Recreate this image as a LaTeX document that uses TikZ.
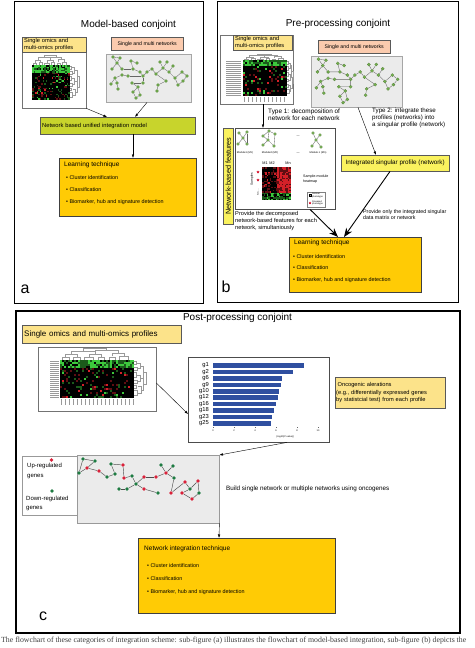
\documentclass[tikz,border=0pt]{standalone}
\usepackage{fontspec}
\setmainfont{Liberation Sans}
\newfontfamily\captionfont{Liberation Serif}
\usetikzlibrary{arrows.meta,shapes.geometric}
\definecolor{tagYellow}{HTML}{FCE38A}
\definecolor{netSalmon}{HTML}{FBCBAE}
\definecolor{netGray}{HTML}{EBEBEB}
\definecolor{modelLime}{HTML}{C8D42C}
\definecolor{techGold}{HTML}{FFCB05}
\definecolor{singleYellow}{HTML}{FAF25E}
\definecolor{nodeGreen}{HTML}{74B04F}
\definecolor{upRed}{HTML}{D9213A}
\definecolor{downGreen}{HTML}{1E7B42}
\definecolor{barBlue}{HTML}{2F4FA0}
\definecolor{heatGreen}{HTML}{3CC83C}
\definecolor{heatRed}{HTML}{D42028}

% one heatmap cell: x, y, size, colour code
\newcommand{\heatcell}[4]{%
  \ifcase\numexpr#4\relax
  \or\fill[heatGreen] (#1,#2) rectangle ++(#3,#3);
  \or\fill[heatRed] (#1,#2) rectangle ++(#3,#3);
  \or\fill[heatGreen!45!black] (#1,#2) rectangle ++(#3,#3);
  \or\fill[heatRed!45!black] (#1,#2) rectangle ++(#3,#3);
  \fi}
% x, y, columns, rows, cell size
\newcommand{\heatcells}[5]{%
  \fill[black] (#1,#2) rectangle ++(#3*#5,#4*#5);
  \foreach \hi in {1,...,#3}{
    \foreach \hj in {1,...,#4}{
      \pgfmathsetmacro\hv{rnd}
      \pgfmathtruncatemacro\hc{\hj<#4*0.22 ? (\hv<0.5 ? 1 : (\hv<0.8 ? 3 : 0)) : (\hv<0.035 ? 2 : (\hv<0.12 ? 4 : (\hv<0.15 ? 1 : (\hv<0.23 ? 3 : 0))))}
      \heatcell{#1+\hi*#5-#5}{#2+\hj*#5-#5}{#5}{\hc}
    }
  }
}
% x, y, width, height, tree scale
\newcommand{\dendro}[5]{%
  \foreach \da/\db/\dl/\dh in {0.03/0.12/0/2, 0.18/0.27/0/2.5, 0.33/0.45/0/2, 0.52/0.6/0/2.5,
      0.66/0.74/0/2, 0.8/0.92/0/3, 0.075/0.225/2.5/5, 0.39/0.56/2.5/5, 0.7/0.86/3/6,
      0.15/0.475/5/7.5, 0.475/0.78/6/8, 0.31/0.63/7.5/10}{
    \draw[dendline] (#1+\da*#3,#2-\dl*#5) -- (#1+\da*#3,#2-\dh*#5) -- (#1+\db*#3,#2-\dh*#5) -- (#1+\db*#3,#2-\dl*#5);
    \draw[dendline] (#1+#3+\dl*#5,#2+\da*#4) -- (#1+#3+\dh*#5,#2+\da*#4) -- (#1+#3+\dh*#5,#2+\db*#4) -- (#1+#3+\dl*#5,#2+\db*#4);
  }
}
% green network, node names prefixed by #1
\newcommand{\greennet}[1]{%
  \foreach \nn/\nx/\ny in {1/7/3, 2/14/4, 3/11/9, 4/6/15, 5/16/15, 6/25/7, 7/31/9, 8/27/15, 9/34/18,
      10/16/21, 11/9/24, 12/5/30, 13/11/29, 14/12/35, 15/22/22, 16/37/22, 17/41/18, 18/46/15,
      19/50/20, 20/54/8, 21/61/8, 22/57/14, 23/63/18, 24/67/12, 25/60/27, 26/52/31, 27/51/37,
      28/76/18, 29/77/27, 30/72/31, 31/69/24, 32/81/22, 33/26/29, 34/32/33, 35/27/38, 36/34/41,
      37/30/44, 38/37/29}
    \node[gnode] (#1\nn) at (\nx,\ny) {};
  \foreach \ea/\eb in {1/2, 2/3, 1/3, 3/4, 3/5, 5/8, 6/8, 6/7, 8/9, 9/16, 10/11, 11/12, 11/13, 13/14,
      10/15, 15/16, 16/17, 17/18, 18/19, 19/22, 20/22, 21/22, 22/23, 23/24, 23/31, 31/28, 28/32,
      32/29, 29/30, 30/31, 19/25, 25/26, 26/27, 16/38, 38/33, 33/34, 34/35, 34/36, 36/37, 35/37}
    \draw[netedge] (#1\ea) -- (#1\eb);
}
% box, heading, heading shift, items shift, line spacing
\newcommand{\techlist}[5]{%
  \node[techhead] (#1Head) at ([shift={#3}]#1.north west) {#2};
  \node[techitems, font=\fontsize{5.4}{#5}\selectfont] (#1Items) at ([shift={#4}]#1.north west)
    {\textbullet\ Cluster identification\\\textbullet\ Classification\\\textbullet\ Biomarker, hub and signature detection};
}

\begin{document}
\begin{tikzpicture}[x=1pt, y=-1pt,
  panel/.style={draw=black, line width=1.3pt, inner sep=0pt, anchor=north west},
  box/.style={draw=black!65, line width=0.4pt, inner sep=0pt, anchor=north west},
  tagbox/.style={box, fill=tagYellow, inner xsep=2pt, align=left, font=\fontsize{5.7}{6.4}\selectfont},
  picframe/.style={box, draw=black!55, fill=white},
  netframe/.style={box, draw=black!35, fill=netGray},
  techbox/.style={box, draw=black!75, fill=techGold},
  paneltitle/.style={inner sep=0pt, font=\fontsize{10}{12}\selectfont},
  panelletter/.style={inner sep=0pt, font=\fontsize{16}{18}\selectfont},
  note/.style={align=left, inner sep=0pt, font=\fontsize{6.2}{7.2}\selectfont},
  techhead/.style={inner sep=0pt, anchor=west, font=\fontsize{6.5}{8}\selectfont},
  techitems/.style={inner sep=0pt, anchor=west, align=left},
  minitext/.style={inner sep=0pt, font=\fontsize{3}{3.5}\selectfont},
  gnode/.style={circle, fill=nodeGreen, draw=nodeGreen!70!black, line width=0.2pt, minimum size=3.2pt, inner sep=0pt},
  cnode/.style={circle, minimum size=3.8pt, inner sep=0pt},
  netedge/.style={draw=black!60, line width=0.35pt},
  arr/.style={-{Latex[length=3.5pt, width=2.5pt]}, line width=0.4pt},
  bigarr/.style={-{Stealth[length=9pt, width=7pt]}, line width=0.9pt},
  dendline/.style={draw=black!40, line width=0.25pt},
  startag/.style={star, star points=5, fill=upRed, minimum size=3pt, inner sep=0pt},
]
\useasboundingbox (0,0) rectangle (474,648);
\fill[white] (0,0) rectangle (474,648);
\pgfmathsetseed{7}

% (a) model-based conjoint
\node[panel, minimum width=189pt, minimum height=302pt] (panelA) at (14,1) {};
\node[paneltitle] (titleA) at (128.5,25) {Model-based conjoint};
\node[picframe, minimum width=64pt, minimum height=71pt] (omicsA) at (22,37) {};
\heatcells{32}{65}{25}{23}{1.5}
\dendro{32}{65}{37.5}{34.5}{1}
\node[tagbox, text width=60pt, minimum height=15pt] (omicsTagA) at (22,37) {Single omics and\\multi-omics profiles};
\node[box, fill=netSalmon, minimum width=72pt, minimum height=13pt, font=\fontsize{5.2}{6}\selectfont] (netTagA) at (111,37) {Single and multi networks};
\node[netframe, minimum width=85pt, minimum height=48pt] (netA) at (106,54) {};
\begin{scope}[shift={(106,54)}]
  \greennet{A}
\end{scope}
\node[box, fill=modelLime, minimum height=17pt, text width=151pt, inner xsep=2pt, align=left,
  font=\fontsize{5.8}{7}\selectfont] (unified) at (40,117) {Network based unified integration model};
\draw[arr] (omicsA.south east) -- ([xshift=67pt]unified.north west);
\draw[arr] ([xshift=41pt]netA.south west) -- ([xshift=95pt]unified.north west);
\node[techbox, minimum width=137pt, minimum height=58pt] (learnA) at (59,158) {};
\draw[arr] ([xshift=93pt]unified.south west) -- ([xshift=74pt]learnA.north west);
\techlist{learnA}{Learning technique}{(5,7)}{(7,32)}{12}
\node[panelletter] (letterA) at (25,289) {a};

% (b) pre-processing conjoint
\node[panel, minimum width=241pt, minimum height=301pt] (panelB) at (217,1) {};
\node[paneltitle] (titleB) at (338,24) {Pre-processing conjoint};
\node[picframe, minimum width=73pt, minimum height=69pt] (omicsB) at (220,35) {};
\heatcells{243}{60}{22}{18}{2}
\dendro{243}{60}{44}{36}{0.6}
\foreach \rr in {0,...,17} \draw[dendline] (226,61+\rr*2) -- ++(15,0);
\foreach \cc in {0,...,10} \draw[dendline] (244+\cc*4,97) -- ++(0,5);
\node[tagbox, text width=55pt, minimum height=15pt] (omicsTagB) at (233,35) {Single omics and\\multi-omics profiles};
\node[box, fill=netSalmon, minimum width=72pt, minimum height=13pt, font=\fontsize{5.2}{6}\selectfont] (netTagB) at (318,40) {Single and multi networks};
\node[netframe, minimum width=91pt, minimum height=51pt] (netB) at (311,56) {};
\begin{scope}[shift={(311,56)}, xscale=1.07, yscale=1.06]
  \greennet{B}
\end{scope}
\node[note, anchor=north west, font=\fontsize{6.4}{7}\selectfont] (typeOne) at (268,109) {Type 1: decomposition of\\network for each network};
\node[note, anchor=north west, font=\fontsize{6.2}{7}\selectfont] (typeTwo) at (372,108) {Type 2: integrate these\\profiles (networks) into\\a singular profile (network)};
\node[box, fill=singleYellow, minimum width=108pt, minimum height=16pt, font=\fontsize{6.3}{7}\selectfont] (single) at (341,155) {Integrated singular profile (network)};
\draw[arr] ([xshift=47pt]netB.south west) -- ([xshift=35pt]single.north west);

% network-based features
\node[box, draw=black!70, fill=white, minimum width=100pt, minimum height=81pt] (nbf) at (235,128) {};
\node[box, fill=singleYellow, minimum width=10pt, minimum height=96pt] (nbfTag) at (223,128) {};
\node[rotate=90, inner sep=0pt, font=\fontsize{7.3}{8}\selectfont] (nbfText) at (nbfTag.center) {Network-based features};
\draw[arr] ([xshift=43pt]omicsB.south west) -- ([xshift=28pt]nbf.north west);
\foreach \nn/\nx/\ny in {1/239/133, 2/247/132, 3/243/138, 4/238/144, 5/247/144}
  \node[gnode, minimum size=2.8pt] (mOne\nn) at (\nx,\ny) {};
\foreach \ea/\eb in {1/3, 2/3, 3/4, 3/5, 2/5} \draw[netedge] (mOne\ea) -- (mOne\eb);
\foreach \nn/\nx/\ny in {1/263/136, 2/269/131, 3/275/134, 4/268/140, 5/263/145, 6/274/146}
  \node[gnode, minimum size=2.8pt] (mTwo\nn) at (\nx,\ny) {};
\foreach \ea/\eb in {1/2, 2/3, 2/4, 4/5, 4/6, 1/4, 3/6} \draw[netedge] (mTwo\ea) -- (mTwo\eb);
\foreach \nn/\nx/\ny in {1/313/133, 2/320/135, 3/316/140, 4/312/146, 5/321/147}
  \node[gnode, minimum size=2.8pt] (mLast\nn) at (\nx,\ny) {};
\foreach \ea/\eb in {1/3, 2/3, 3/4, 3/5} \draw[netedge] (mLast\ea) -- (mLast\eb);
\node[minitext] (dashTop) at (298,136) {---};
\node[minitext] (dashLow) at (298,153) {---};
\node[minitext, font=\fontsize{2.6}{3}\selectfont] (labMOne) at (245,153) {Module1 (M1)};
\node[minitext, font=\fontsize{2.6}{3}\selectfont] (labMTwo) at (270,153) {Module2 (M2)};
\node[minitext, font=\fontsize{2.6}{3}\selectfont] (labMLast) at (318,153) {Module n (Mn)};
\node[minitext, font=\fontsize{3.8}{4}\selectfont] (colMOne) at (265,163) {M1};
\node[minitext, font=\fontsize{3.8}{4}\selectfont] (colMTwo) at (272,163) {M2};
\node[minitext, font=\fontsize{3.8}{4}\selectfont] (colMLast) at (288,163) {Mn};
\fill[black] (262,167) rectangle ++(28.5,33);
\foreach \hi in {1,...,19}{
  \foreach \hj in {1,...,22}{
    \pgfmathsetmacro\hv{rnd}
    \pgfmathtruncatemacro\hc{\hj>17 ? (\hv<0.55 ? 3 : (\hv<0.75 ? 1 : 0)) : (\hi>10 ? (\hv<0.6 ? 2 : 4) : (\hv<0.3 ? 4 : (\hv<0.37 ? 2 : 0)))}
    \heatcell{262+\hi*1.5-1.5}{167+\hj*1.5-1.5}{1.5}{\hc}
  }
}
\node[minitext, rotate=90, font=\fontsize{3.2}{4}\selectfont] (samples) at (252,179) {Samples};
\node[startag] (starOne) at (258,172) {};
\node[startag] (starTwo) at (258,180) {};
\node[minitext, rotate=90, font=\fontsize{2.6}{3}\selectfont] (sampleN) at (258,192) {Sn ...};
\node[minitext, anchor=north west, align=left, font=\fontsize{3.6}{5}\selectfont] (hmNote) at (303,175) {Sample-module\\heatmap};
\node[box, draw=black!50, fill=white, minimum width=18pt, minimum height=15pt] (phenoKey) at (307,192) {};
\node[fill=black!40, draw=black, line width=0.2pt, inner sep=0pt, minimum size=2pt] (normalSq) at (310,195.5) {};
\node[minitext, anchor=west, align=left, font=\fontsize{2.3}{2.6}\selectfont] (normalTxt) at (312,195.5) {Normal\\phenotype};
\node[startag, minimum size=2.6pt] (diseaseStar) at (310,203) {};
\node[minitext, anchor=west, align=left, font=\fontsize{2.3}{2.6}\selectfont] (diseaseTxt) at (312,203) {Diseased\\phenotype};
\node[note, anchor=north west, font=\fontsize{5.7}{7}\selectfont] (provideA) at (235,211) {Provide the decomposed\\network-based features for each\\network, simultaniously};
\node[note, anchor=north west, font=\fontsize{5.3}{6.8}\selectfont] (provideB) at (363,209) {Provide only the integrated singular\\data matrix or network};
\node[techbox, minimum width=132pt, minimum height=55pt] (learnB) at (289,237) {};
\draw[bigarr] ([xshift=75pt]nbf.south west) -- ([xshift=49pt]learnB.north west);
\draw[bigarr] ([xshift=49pt]single.south west) -- ([xshift=55pt]learnB.north west);
\techlist{learnB}{Learning technique}{(5,6)}{(4,31.5)}{11.5}
\node[panelletter] (letterB) at (226,287) {b};

% (c) post-processing conjoint
\node[panel, line width=2pt, minimum width=444pt, minimum height=322pt] (panelC) at (15,310) {};
\node[paneltitle] (titleC) at (237.5,318) {Post-processing conjoint};
\node[tagbox, text width=155pt, minimum height=18pt, font=\fontsize{8}{9}\selectfont] (omicsTagC) at (22,325) {Single omics and multi-omics profiles};
\node[picframe, minimum width=118pt, minimum height=64pt] (omicsC) at (38,347) {};
\heatcells{60}{360}{37}{19}{2}
\dendro{60}{360}{74}{38}{1.2}
\foreach \rr in {0,...,18} \draw[dendline] (50,361+\rr*2) -- ++(9,0);
\foreach \cc in {0,...,18} \draw[dendline] (61+\cc*4,399) -- ++(0,6);
\node[box, draw=black!70, fill=white, minimum width=141pt, minimum height=85pt] (chart) at (188,357) {};
\draw[arr] ([yshift=-36pt]omicsC.north east) -- ([yshift=-57pt]chart.north west);
\foreach \g/\e [count=\bi from 0] in {g1/304, g2/293, g6/282, g9/281, g10/279, g12/278, g16/276, g18/274, g23/272, g25/271}{
  \node[inner sep=0pt, anchor=east, font=\fontsize{5.8}{6}\selectfont] (lab\g) at (209,365.5+\bi*6.4) {\g};
  \fill[barBlue] (213,363.3+\bi*6.4) rectangle (\e,368+\bi*6.4);
}
\foreach \t [count=\ti from 0] in {0,2,4,6,8,10}{
  \draw[black!60, line width=0.25pt] (213+\ti*21,427) -- ++(0,1.2);
  \node[minitext, font=\fontsize{2.4}{3}\selectfont] (tick\ti) at (213+\ti*21,430.5) {\t};
}
\node[minitext, font=\fontsize{2.4}{3}\selectfont] (axisLabel) at (285,436.5) {(-log10(P-value))};
\node[tagbox, text width=108pt, inner xsep=1pt, minimum height=31pt, font=\fontsize{5.7}{7.5}\selectfont] (oncoTag) at (335,377)
  {\hspace{1.5pt}Oncogenic alerations\\(e.g., differentially expressed genes\\by statistcial test) from each profile};
\node[box, draw=black!40, fill=white, minimum width=55pt, minimum height=59pt] (keyC) at (22,456) {};
\node[cnode, fill=upRed] (upDot) at (51.5,460) {};
\node[note, anchor=north west, font=\fontsize{6}{10}\selectfont] (upTxt) at (27,463) {Up-regulated\\genes};
\node[cnode, fill=downGreen] (downDot) at (52,491) {};
\node[note, anchor=north west, font=\fontsize{6}{9}\selectfont] (downTxt) at (26,495.5) {Down-regulated\\genes};
\node[netframe, draw=black!40, minimum width=142pt, minimum height=68pt] (netC) at (77,455) {};
\foreach \nn/\nx/\ny/\nc in {1/83/459/downGreen, 2/95/461/downGreen, 3/79/473/downGreen, 4/87/468/upRed,
    5/99/471/upRed, 6/107/477/downGreen, 7/111/464/downGreen, 8/123/465/upRed, 9/115/474/downGreen,
    10/124/478/upRed, 11/132/476/downGreen, 12/136/484/downGreen, 13/119/489/downGreen, 14/127/489/downGreen,
    15/144/489/upRed, 16/158/493/downGreen, 17/144/477/upRed, 18/156/477/upRed, 19/166/473/upRed,
    20/161/465/downGreen, 21/173/466/downGreen, 22/174/478/downGreen, 23/171/493/upRed, 24/185/482/upRed,
    25/182/493/upRed, 26/190/489/downGreen, 27/198/481/upRed, 28/199/493/downGreen, 29/192/499/upRed}
  \node[cnode, fill=\nc] (c\nn) at (\nx,\ny) {};
\foreach \ea/\eb in {1/2, 1/3, 3/4, 2/4, 4/5, 5/6, 6/9, 9/7, 7/8, 8/10, 10/11, 11/12, 12/14, 14/13,
    12/15, 15/16, 12/17, 17/18, 18/19, 19/20, 19/21, 19/22, 22/23, 23/24, 24/26, 25/26, 26/27,
    27/28, 28/29, 29/25}
  \draw[black!70, line width=0.45pt] (c\ea) -- (c\eb);
\draw[arr] ([xshift=99pt]chart.south west) -- (netC.north east);
\node[note, anchor=west, font=\fontsize{6.3}{7}\selectfont] (buildTxt) at (226,489) {Build single network or multiple networks using oncogenes};
\node[techbox, minimum width=197pt, minimum height=75pt] (netTech) at (138,538) {};
\draw[arr] (netC.south east) -- ([xshift=81pt]netTech.north west);
\techlist{netTech}{Network integration technique}{(6,11)}{(9,41)}{13}
\node[panelletter] (letterC) at (43,616) {c};

% caption under the panels
\node[anchor=west, inner sep=0pt, text=black!75, font=\captionfont\fontsize{7.8}{9}\selectfont] (caption) at (1,641)
  {The flowchart of these categories of integration scheme: sub-figure (a) illustrates the flowchart of model-based integration, sub-figure (b) depicts the};
\end{tikzpicture}
\end{document}
